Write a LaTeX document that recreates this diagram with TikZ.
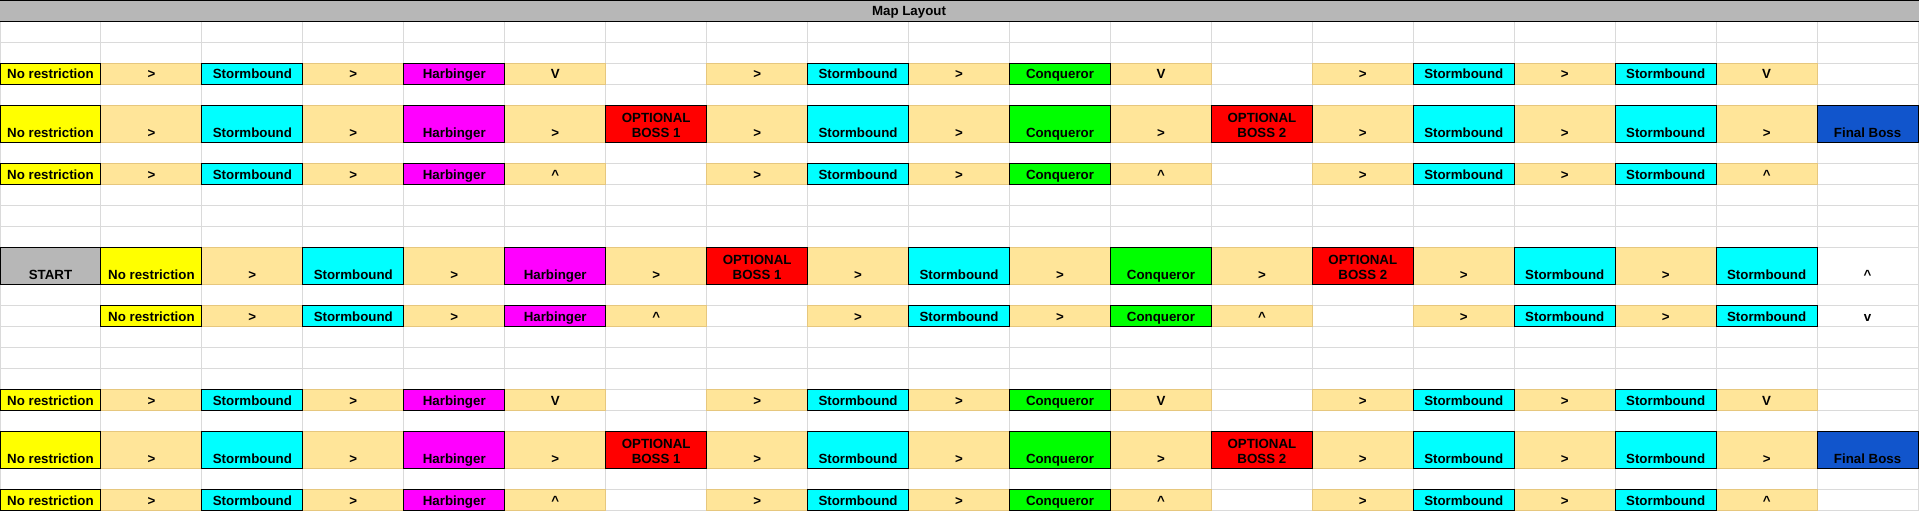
\documentclass[tikz,border=0pt]{standalone}
\usepackage{fontspec}
\setmainfont{Liberation Sans}
\definecolor{tanfill}{HTML}{FFE599}
\definecolor{tanline}{HTML}{E6C77E}
\definecolor{gridc}{HTML}{DADADA}
\definecolor{greyc}{HTML}{B7B7B7}
\definecolor{bluec}{HTML}{1155CC}
\definecolor{yelc}{HTML}{FFFF00}
\definecolor{cyanc}{HTML}{00FFFF}
\definecolor{magc}{HTML}{FF00FF}
\definecolor{grnc}{HTML}{00FF00}
\definecolor{redc}{HTML}{FF0000}
\tikzset{
  cellbox/.style={rectangle, inner sep=0pt, outer sep=0pt, minimum width=100.95pt, anchor=north west, line width=1pt},
  celltext/.style={anchor=base, inner sep=0pt, font=\fontsize{13.3}{14.7}\selectfont\bfseries, text=black},
  gridline/.style={draw=gridc, line width=1pt},
}
% #1 name, #2 col, #3 top, #4 height, #5 fill, #6 border, #7 text
\newcommand\mkcell[7]{%
  \node[cellbox, minimum height=#4pt, fill=#5, draw=#6] (#1) at ({#2*100.95},{-#3}) {};
  \node[celltext] (#1t) at ([yshift=5.5pt]#1.south) {#7};
}
% #1 name, #2 col, #3 top, #4 height, #5 number
\newcommand\mkboss[5]{%
  \node[cellbox, minimum height=#4pt, fill=redc, draw=black] (#1) at ({#2*100.95},{-#3}) {};
  \node[celltext] (#1a) at ([yshift=20.2pt]#1.south) {OPTIONAL};
  \node[celltext] (#1b) at ([yshift=5.5pt]#1.south) {BOSS #5};
}
% short side row: #1 name, #2 top, #3 symbol
\newcommand\sideShort[3]{%
  \foreach \ci/\txt in {1/>,3/>,5/#3,7/>,9/>,11/#3,13/>,15/>,17/#3}
    {\mkcell{#1c\ci}{\ci}{#2}{21}{tanfill}{tanline}{\txt}}
  \foreach \ci/\fc/\txt in {0/yelc/No restriction,2/cyanc/Stormbound,4/magc/Harbinger,8/cyanc/Stormbound,10/grnc/Conqueror,14/cyanc/Stormbound,16/cyanc/Stormbound}
    {\mkcell{#1c\ci}{\ci}{#2}{21}{\fc}{black}{\txt}}
}
% tall side row: #1 name, #2 top
\newcommand\sideTall[2]{%
  \foreach \ci in {1,3,5,7,9,11,13,15,17}
    {\mkcell{#1c\ci}{\ci}{#2}{37.2}{tanfill}{tanline}{>}}
  \foreach \ci/\fc/\txt in {0/yelc/No restriction,2/cyanc/Stormbound,4/magc/Harbinger,8/cyanc/Stormbound,10/grnc/Conqueror,14/cyanc/Stormbound,16/cyanc/Stormbound,18/bluec/Final Boss}
    {\mkcell{#1c\ci}{\ci}{#2}{37.2}{\fc}{black}{\txt}}
  \mkboss{#1c6}{6}{#2}{37.2}{1}
  \mkboss{#1c12}{12}{#2}{37.2}{2}
}
\begin{document}
\begin{tikzpicture}[x=1pt,y=1pt]
\useasboundingbox (0,0) rectangle (1919,-511);
\fill[white] (0,0) rectangle (1919,-511);
% grid
\foreach \k in {0,...,19}
  \draw[gridline] (\k*100.95,-21.3) -- (\k*100.95,-511);
\foreach \yy in {42.3,63.3,84.3,105.3,142.5,163.5,184.5,205.5,226.5,247.5,284.7,305.7,326.7,347.7,368.7,389.7,410.7,431.7,468.9,489.9,510.9}
  \draw[gridline] (0,-\yy) -- (1919,-\yy);
% title
\node[cellbox, minimum width=1919pt, minimum height=21.3pt, fill=greyc] (title) at (0,0) {};
\draw[line width=1pt] (title.north west) ++(0,-0.5) -- ++(1919,0);
\draw[line width=1pt] (title.south west) -- (title.south east);
\node[celltext] (titletext) at (909,-15.8) {Map Layout};
% upper group
\sideShort{ra}{63.3}{V}
\sideTall{rb}{105.3}
\sideShort{rc}{163.5}{\textasciicircum}
% middle group
\foreach \ci in {2,4,6,8,10,12,14,16}
  {\mkcell{rmc\ci}{\ci}{247.5}{37.2}{tanfill}{tanline}{>}}
\foreach \ci/\fc/\txt in {0/greyc/START,1/yelc/No restriction,3/cyanc/Stormbound,5/magc/Harbinger,9/cyanc/Stormbound,11/grnc/Conqueror,15/cyanc/Stormbound,17/cyanc/Stormbound}
  {\mkcell{rmc\ci}{\ci}{247.5}{37.2}{\fc}{black}{\txt}}
\mkboss{rmc7}{7}{247.5}{37.2}{1}
\mkboss{rmc13}{13}{247.5}{37.2}{2}
\mkcell{rmc18}{18}{247.5}{37.2}{none}{none}{\textasciicircum}
\foreach \ci/\txt in {2/>,4/>,6/\textasciicircum,8/>,10/>,12/\textasciicircum,14/>,16/>}
  {\mkcell{rnc\ci}{\ci}{305.7}{21}{tanfill}{tanline}{\txt}}
\foreach \ci/\fc/\txt in {1/yelc/No restriction,3/cyanc/Stormbound,5/magc/Harbinger,9/cyanc/Stormbound,11/grnc/Conqueror,15/cyanc/Stormbound,17/cyanc/Stormbound}
  {\mkcell{rnc\ci}{\ci}{305.7}{21}{\fc}{black}{\txt}}
\mkcell{rnc18}{18}{305.7}{21}{none}{none}{v}
% lower group
\sideShort{rd}{389.7}{V}
\sideTall{re}{431.7}
\sideShort{rf}{489.9}{\textasciicircum}
\end{tikzpicture}
\end{document}
